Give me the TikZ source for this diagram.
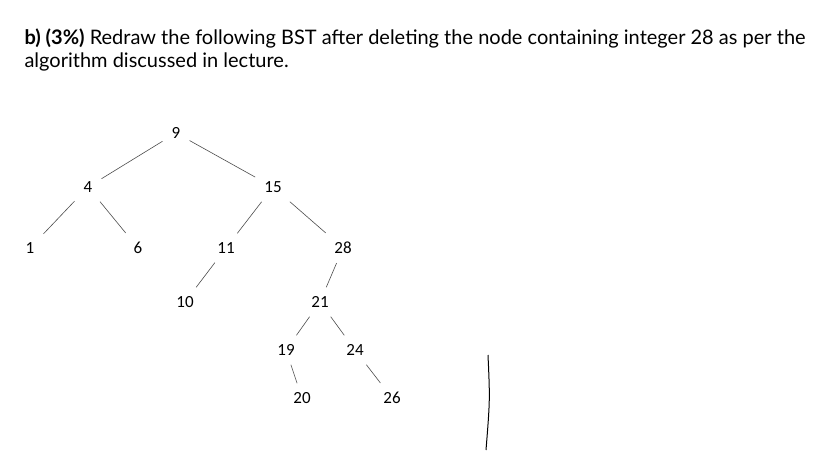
\documentclass[tikz,border=0pt]{standalone}
\usepackage{fontspec}
\setmainfont{Lato}
\newfontfamily\nf{Carlito}
\begin{document}
\begin{tikzpicture}[x=1pt,y=-1pt,
  tn/.style={font=\nf\fontsize{17}{17}\selectfont,inner sep=9pt},
  ed/.style={draw=black!70,line width=0.6pt}]
\useasboundingbox (0,0) rectangle (830,455);
\node[anchor=west,font=\fontsize{20}{24}\selectfont] (l1) at (21,38) {\textbf{b) (3\%)} Redraw the following BST after deleting the node containing integer 28 as per the};
\node[anchor=west,font=\fontsize{20}{24}\selectfont] (l2) at (21,62) {algorithm discussed in lecture.};
\node[tn] (n9) at (176,133) {9};
\node[tn] (n4) at (88,187) {4};
\node[tn] (n15) at (273,187) {15};
\node[tn] (n1) at (30,248) {1};
\node[tn] (n6) at (138,248) {6};
\node[tn] (n11) at (226,248) {11};
\node[tn] (n28) at (343,248) {28};
\node[tn] (n10) at (185,302) {10};
\node[tn] (n21) at (320,302) {21};
\node[tn] (n19) at (286,350) {19};
\node[tn] (n24) at (355,350) {24};
\node[tn] (n20) at (302,398) {20};
\node[tn] (n26) at (392,398) {26};
\draw[ed] (n9)--(n4); \draw[ed] (n9)--(n15);
\draw[ed] (n4)--(n1); \draw[ed] (n4)--(n6);
\draw[ed] (n15)--(n11); \draw[ed] (n15)--(n28);
\draw[ed] (n11)--(n10); \draw[ed] (n28)--(n21);
\draw[ed] (n21)--(n19); \draw[ed] (n21)--(n24);
\draw[ed] (n19)--(n20); \draw[ed] (n24)--(n26);
\coordinate (v1) at (488,355); \coordinate (v2) at (486,450);
\draw[line width=1pt] (v1) .. controls (490,400) .. (v2);
\end{tikzpicture}
\end{document}
